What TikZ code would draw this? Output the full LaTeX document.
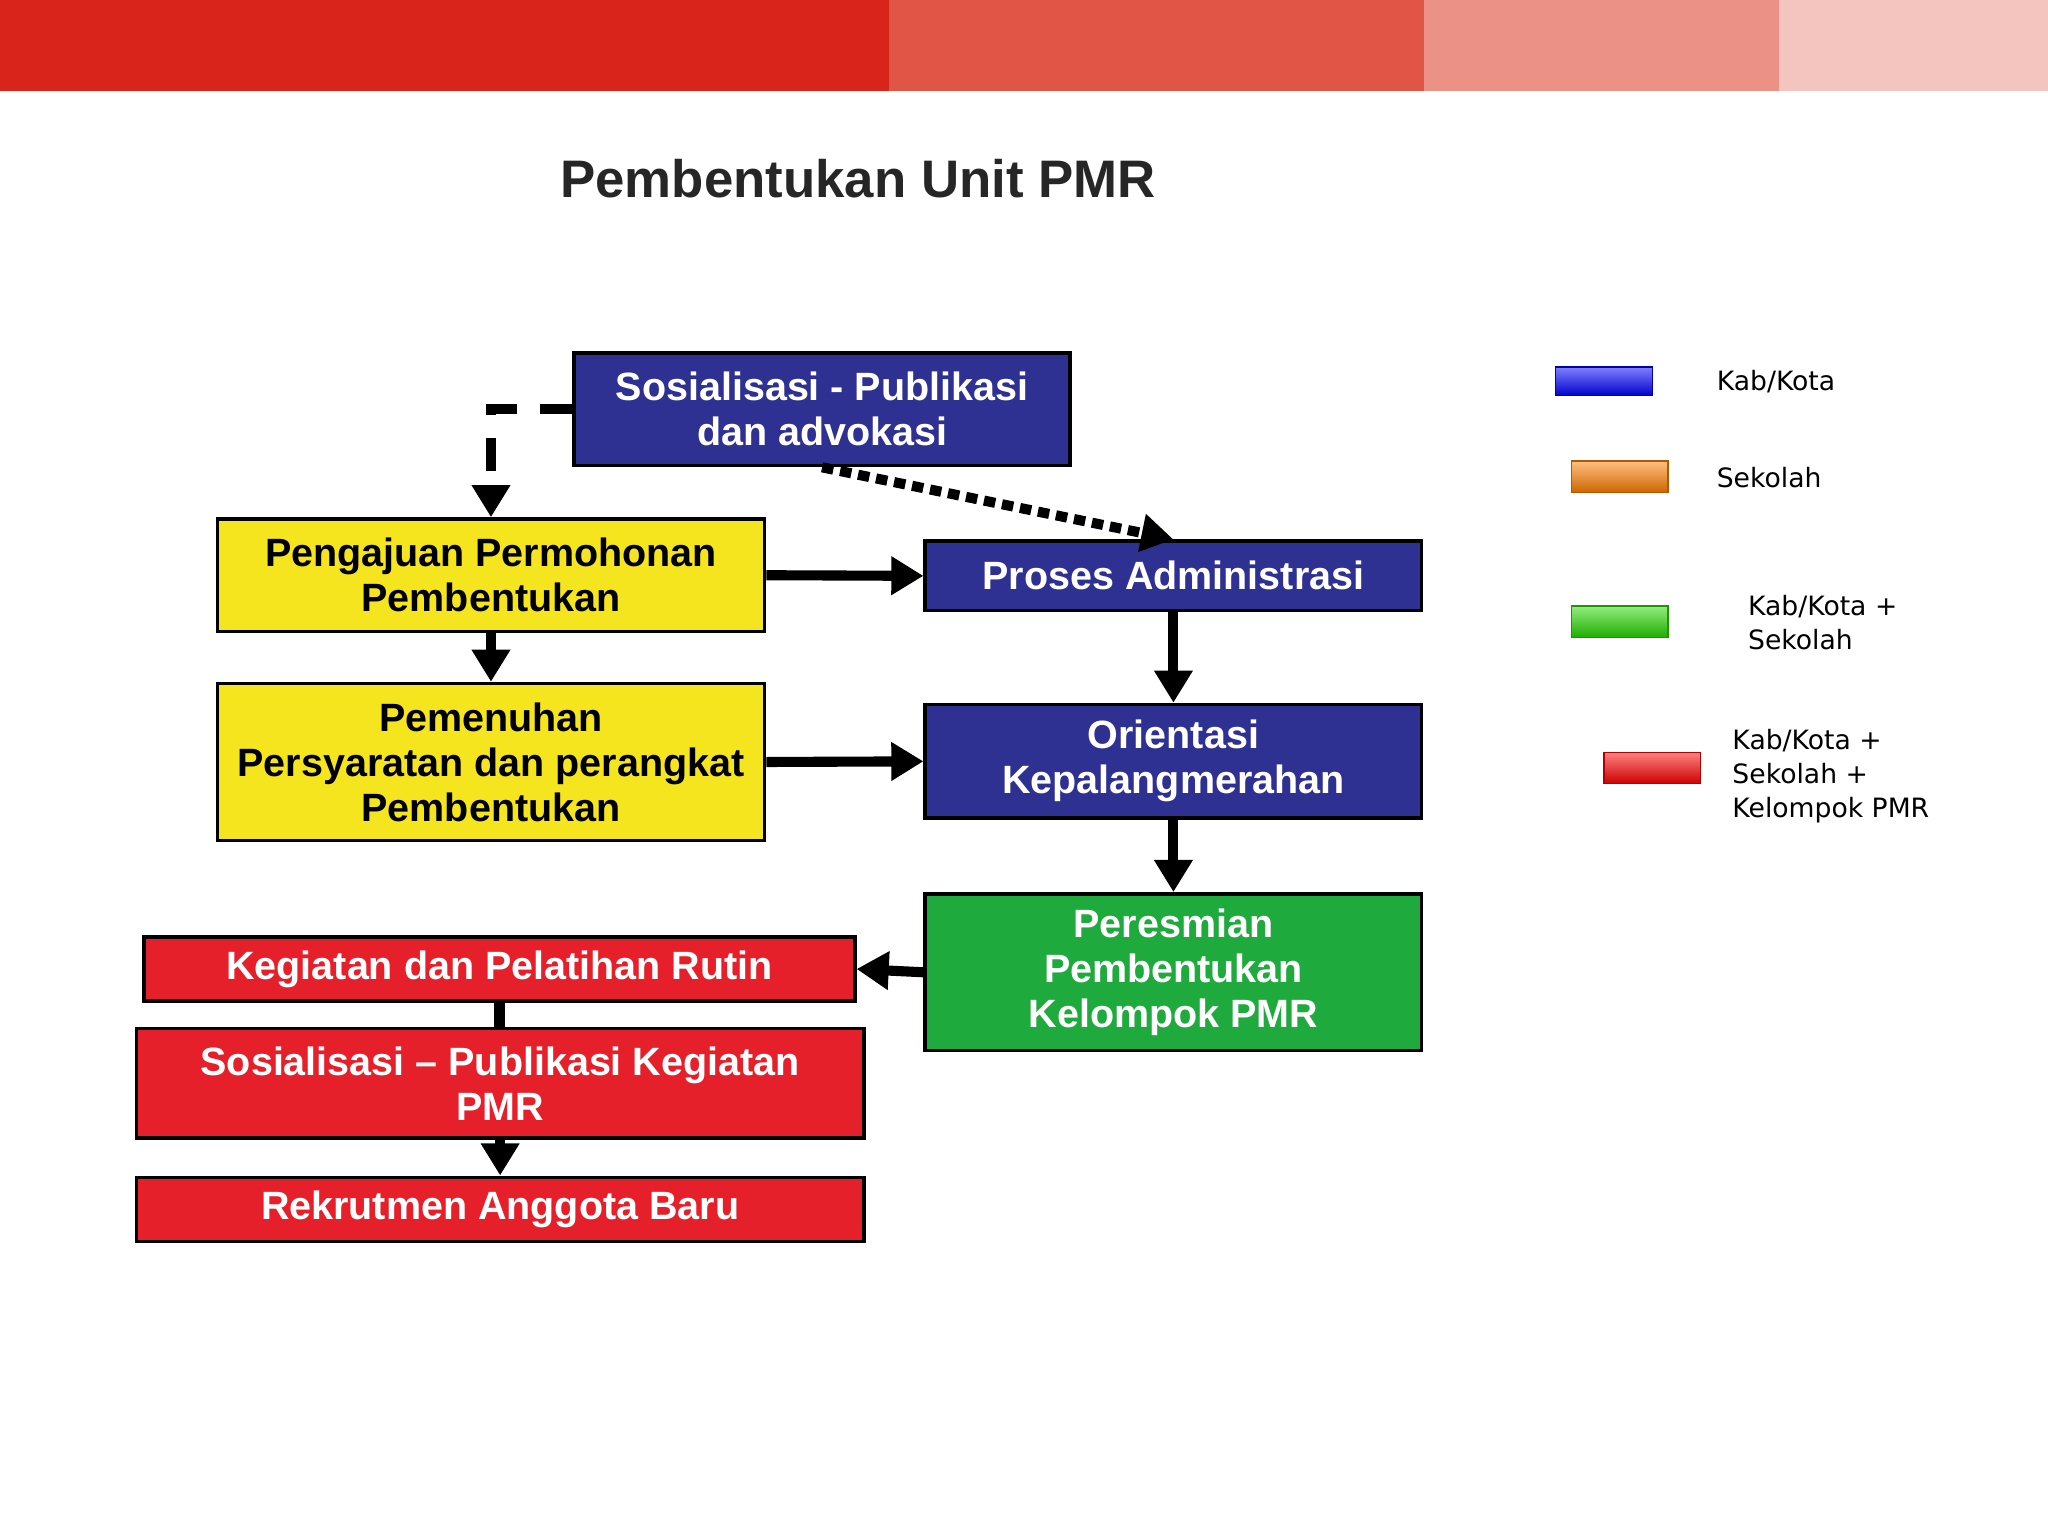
\documentclass[tikz,border=0pt]{standalone}
\usepackage{fontspec}
\setmainfont{Liberation Sans}
\newfontfamily\legfont{DejaVu Sans}
\usetikzlibrary{arrows.meta}
\definecolor{barA}{HTML}{D9241C}\definecolor{barB}{HTML}{E05545}
\definecolor{barC}{HTML}{EC9185}\definecolor{barD}{HTML}{F4C4BE}
\definecolor{bblue}{HTML}{2E3192}\definecolor{byel}{HTML}{F5E51E}
\definecolor{bgreen}{HTML}{1EAA3C}\definecolor{bred}{HTML}{E5202A}
\tikzset{
 box/.style={draw=black,line width=0.8pt,anchor=north west,inner sep=0pt,align=center,font=\fontsize{8.6}{9.8}\selectfont\bfseries},
 bluebox/.style={box,fill=bblue,text=white},
 yelbox/.style={box,fill=byel,text=black},
 greenbox/.style={box,fill=bgreen,text=white},
 redbox/.style={box,fill=bred,text=white},
 arr/.style={line width=2.2pt,-{Triangle[length=7pt,width=8pt]}},
 leg/.style={anchor=west,align=left,font=\legfont\fontsize{5.8}{7.4}\selectfont},
}
\newcommand{\legbar}[4]{\shade[top color=#4!50!white,bottom color=#4!80!black,draw=#4!70!black,line width=0.3pt] (#1,-#2) rectangle ++(0.74,-#3);}
\begin{document}
\begin{tikzpicture}[x=1cm,y=1cm]
\useasboundingbox (0,0) rectangle (15.68,-11.76);
\fill[barA] (0,0) rectangle (6.81,-0.70);
\fill[barB] (6.81,0) rectangle (10.90,-0.70);
\fill[barC] (10.90,0) rectangle (13.62,-0.70);
\fill[barD] (13.62,0) rectangle (15.68,-0.70);
\node[font=\fontsize{11.5}{13}\selectfont\bfseries,text=black!85] (title) at (6.57,-1.37) {Pembentukan Unit PMR};

\node[bluebox,minimum width=3.80cm,minimum height=0.86cm] (sos) at (4.38,-2.69) {Sosialisasi - Publikasi\\dan advokasi};
\node[yelbox,minimum width=4.19cm,minimum height=0.86cm] (peng) at (1.65,-3.96) {Pengajuan Permohonan\\Pembentukan};
\node[yelbox,minimum width=4.19cm,minimum height=1.20cm] (pem) at (1.65,-5.22) {Pemenuhan\\Persyaratan dan perangkat\\Pembentukan};
\node[bluebox,minimum width=3.80cm,minimum height=0.53cm] (pros) at (7.07,-4.13) {Proses Administrasi};
\node[bluebox,minimum width=3.80cm,minimum height=0.87cm] (ori) at (7.07,-5.38) {Orientasi\\Kepalangmerahan};
\node[greenbox,minimum width=3.80cm,minimum height=1.20cm] (res) at (7.07,-6.83) {Peresmian\\Pembentukan\\Kelompok PMR};
\node[redbox,minimum width=5.44cm,minimum height=0.49cm] (keg) at (1.09,-7.16) {Kegiatan dan Pelatihan Rutin};
\node[redbox,minimum width=5.57cm,minimum height=0.84cm] (spmr) at (1.03,-7.86) {Sosialisasi -- Publikasi Kegiatan\\PMR};
\node[redbox,minimum width=5.57cm,minimum height=0.49cm] (rek) at (1.03,-9.00) {Rekrutmen Anggota Baru};

\draw[arr,dash pattern=on 7pt off 5pt] (sos.west) -| (peng.north);
\draw[arr,dash pattern=on 2.5pt off 1.5pt] (sos.south) -- (pros.north);
\draw[arr] (peng.south) -- (pem.north);
\draw[arr] (peng.east) -- (pros.west);
\draw[arr] (pem.east) -- (ori.west);
\draw[arr] (pros.south) -- (ori.north);
\draw[arr] (ori.south) -- (res.north);
\draw[arr] (res.west) -- (keg.east);
\draw[line width=2.2pt] (keg.south) -- (spmr.north -| keg.south);
\draw[arr] (spmr.south) -- (rek.north);

\legbar{11.91}{2.81}{0.22}{blue}
\legbar{12.03}{3.53}{0.24}{orange}
\legbar{12.03}{4.64}{0.24}{green!70!olive}
\legbar{12.28}{5.76}{0.24}{red}
\node[leg] (l1) at (13.02,-2.92) {Kab/Kota};
\node[leg] (l2) at (13.02,-3.66) {Sekolah};
\node[leg] (l3) at (13.26,-4.77) {Kab/Kota +\\Sekolah};
\node[leg] (l4) at (13.14,-5.94) {Kab/Kota +\\Sekolah +\\Kelompok PMR};
\end{tikzpicture}
\end{document}
